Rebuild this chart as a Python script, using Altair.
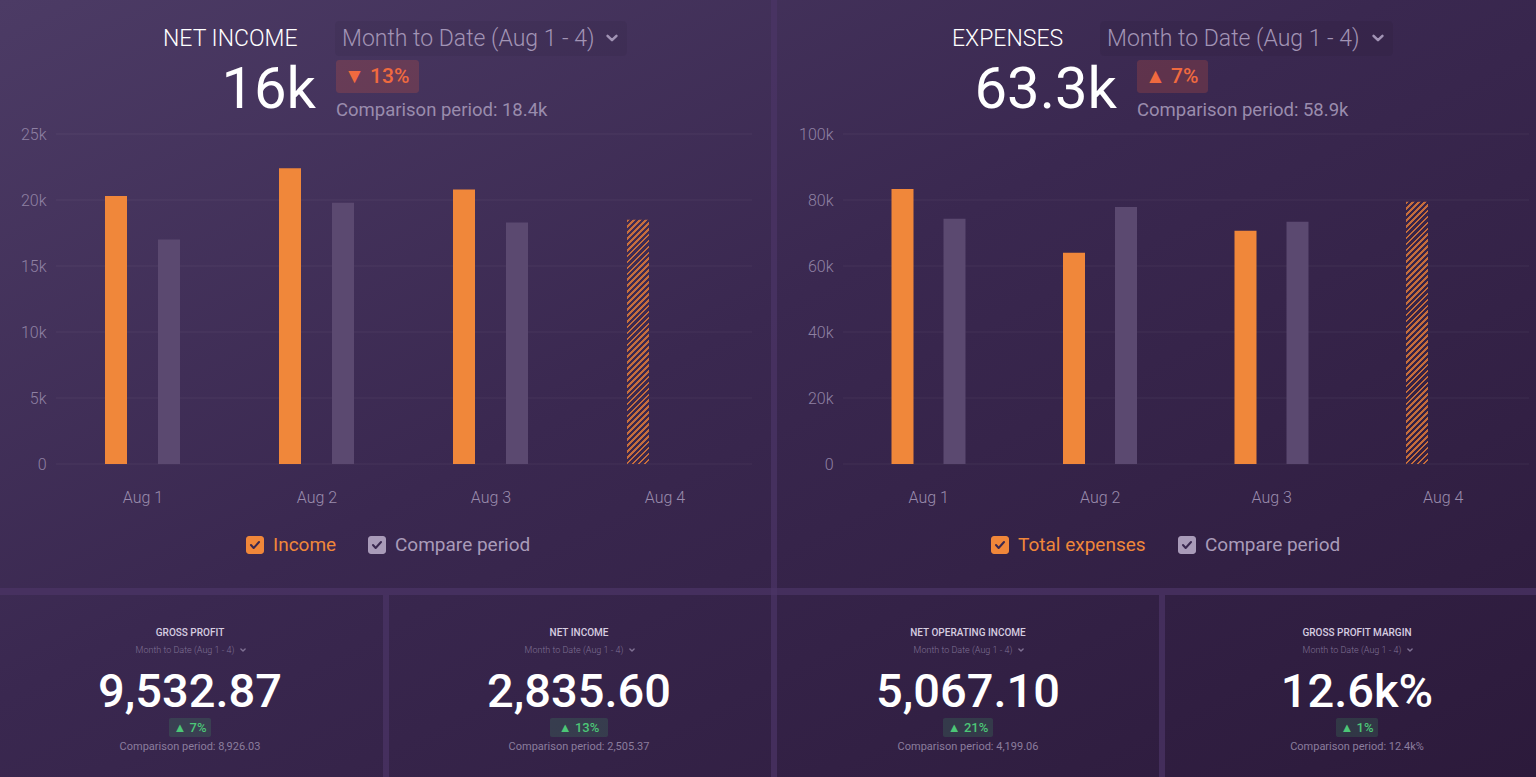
import altair as alt
import pandas as pd

# ---------------- data ----------------
days = ["Aug 1", "Aug 2", "Aug 3", "Aug 4"]

income = [20300, 22400, 20800]
income_compare = [17000, 19800, 18300]
income_forecast = 18500          # Aug 4 is still running

expenses = [83300, 64000, 70700]
expenses_compare = [74300, 77900, 73400]
expenses_forecast = 79500

income_ticks = [0, 5000, 10000, 15000, 20000, 25000]
expense_ticks = [0, 20000, 40000, 60000, 80000, 100000]

kpi_titles = ["GROSS PROFIT", "NET INCOME", "NET OPERATING INCOME", "GROSS PROFIT MARGIN"]
kpi_values = ["9,532.87", "2,835.60", "5,067.10", "12.6k%"]
kpi_changes = ["▲ 7%", "▲ 13%", "▲ 21%", "▲ 1%"]
kpi_compare = ["8,926.03", "2,505.37", "4,199.06", "12.4k%"]

# ---------------- style / layout ----------------
W, H = 1536, 777
PLOT_TOP, PLOT_BOTTOM = 134, 464
FONT = "Roboto"
ORANGE = "#f0873a"
GREY_BAR = "#5b4970"
CHECK_GREY = "#a99bb9"
AXIS_TEXT = "#8f81a3"
MUTED = "#9a8cad"
BAR_W = 22

DOT = pd.DataFrame({"k": [0]})


def label(text, x, y, size, color, weight=400, align="left", baseline="middle"):
    return alt.Chart(DOT).mark_text(
        text=text, font=FONT, fontSize=size, color=color, fontWeight=weight,
        align=align, baseline=baseline,
    ).encode(x=alt.value(x), y=alt.value(y))


def box(x, x2, y, y2, color, opacity=1.0, radius=0):
    return alt.Chart(DOT).mark_rect(
        color=color, opacity=opacity, cornerRadius=radius
    ).encode(x=alt.value(x), x2=alt.value(x2), y=alt.value(y), y2=alt.value(y2))


def glyph(path, x, y, size, color, width):
    return alt.Chart(DOT).mark_point(
        shape=path, size=size, filled=False, stroke=color, strokeWidth=width,
        opacity=1, strokeCap="round", strokeJoin="round",
    ).encode(x=alt.value(x), y=alt.value(y))


CHEVRON = "M -0.6 -0.3 L 0 0.3 L 0.6 -0.3"
CHECK = "M -0.6 0 L -0.2 0.45 L 0.6 -0.45"


def hatch_fill(bar_h, bar_w=BAR_W, period=4.2, duty=0.45):
    """Diagonal '/' stripes as a hard-stop linear gradient in bounding-box units."""
    r = bar_h / bar_w
    a = (1 + r) / (1 + r * r)
    b = a * r
    n = max(1, round((bar_w + bar_h) / (period * 2 ** 0.5)))
    on, off = "rgba(222,122,58,0.85)", "rgba(222,122,58,0)"
    stops = []
    for i in range(n):
        t0, t1, t2 = i / n, (i + duty) / n, (i + 1) / n
        stops += [
            alt.GradientStop(color=on, offset=t0),
            alt.GradientStop(color=on, offset=t1),
            alt.GradientStop(color=off, offset=t1),
            alt.GradientStop(color=off, offset=t2),
        ]
    return alt.LinearGradient(gradient="linear", stops=stops, x1=0, y1=0, x2=a, y2=b)


def bar_panel(series, actual, compare, forecast, ticks, x_range, off_range):
    keys = [series, "Compare period"]
    rows = [{"day": d, "series": series, "value": v} for d, v in zip(days, actual)]
    rows += [{"day": d, "series": "Compare period", "value": v} for d, v in zip(days, compare)]
    df = pd.DataFrame(rows)
    fc = pd.DataFrame({"day": [days[-1]], "series": [series], "value": [forecast]})
    grid_df = pd.DataFrame({"value": ticks})

    x = alt.X(
        "day:N", sort=days,
        scale=alt.Scale(domain=days, range=x_range, paddingInner=0, paddingOuter=0),
        axis=alt.Axis(orient="bottom", offset=PLOT_BOTTOM - H, title=None, zindex=1,
                      domain=False, ticks=False, grid=False, labelAngle=0,
                      labelPadding=25, labelFont=FONT, labelFontSize=16,
                      labelFontWeight=300, labelColor=MUTED),
    )
    y_scale = alt.Scale(domain=[ticks[0], ticks[-1]], range=[PLOT_BOTTOM, PLOT_TOP], nice=False)
    y = alt.Y(
        "value:Q", scale=y_scale,
        axis=alt.Axis(orient="left", offset=-x_range[0], values=ticks,
                      labelExpr="datum.value == 0 ? '0' : format(datum.value / 1000, 'd') + 'k'",
                      title=None, domain=False, ticks=False, grid=False, zindex=1,
                      labelPadding=10, labelFont=FONT, labelFontSize=16,
                      labelFontWeight=300, labelColor=AXIS_TEXT),
    )
    xo = alt.XOffset(
        "series:N", sort=keys,
        scale=alt.Scale(domain=keys, range=off_range, paddingInner=0, paddingOuter=0),
    )
    # horizontal gridlines at the tick values, drawn beneath the bars
    grid = alt.Chart(grid_df).mark_rule(color="#ffffff", opacity=0.06, strokeWidth=1).encode(
        y=y, x=alt.value(x_range[0]), x2=alt.value(x_range[1])
    )
    bars = alt.Chart(df).mark_bar(size=BAR_W).encode(
        x=x, y=y, xOffset=xo,
        color=alt.Color("series:N", scale=alt.Scale(domain=keys, range=[ORANGE, GREY_BAR]),
                        legend=None),
    )
    bar_h = forecast * (PLOT_BOTTOM - PLOT_TOP) / ticks[-1]
    hatch = alt.Chart(fc).mark_bar(size=BAR_W, color=hatch_fill(bar_h)).encode(
        x=x, y=y, xOffset=xo
    )
    return alt.layer(grid, bars, hatch)


def header(title, tx, dd_x, dd_box, chevron_x, big, big_right, badge, badge_box, comp):
    return [
        box(dd_box[0], dd_box[1], 21, 56, "#000000", 0.05, 4),
        label(title, tx, 39, 23, "#ffffff", 300),
        label("Month to Date (Aug 1 - 4)", dd_x, 39, 23, "#a294b5", 300),
        glyph(CHEVRON, chevron_x, 38, 220, "#a294b5", 2.5),
        label(big, big_right, 108, 58, "#ffffff", 400, align="right", baseline="alphabetic"),
        box(badge_box[0], badge_box[1], 60, 93, "#ef5f3c", 0.2, 3),
        label(badge, badge_box[0] + 8, 77, 21, "#f06a3f", 500),
        label("Comparison period: " + comp, badge_box[0], 110, 18.5, MUTED, 400),
    ]


def legend(items):
    out = []
    for text, x, fill, text_color in items:
        out += [
            box(x, x + 18, 536, 554, fill, 1, 3),
            glyph(CHECK, x + 9, 545, 180, "#3a2850", 2),
            label(text, x + 27, 545, 19, text_color, 400),
        ]
    return out


def kpi_card(cx, title, value, change, comp, badge_w):
    return [
        label(title, cx, 633, 10, "#d6cde0", 500, align="center"),
        label("Month to Date (Aug 1 - 4)", cx - 5, 650, 9, "#7f7093", 300, align="center"),
        glyph(CHEVRON, cx + 53, 650, 50, "#7f7093", 1.4),
        label(value, cx, 707, 47, "#ffffff", 500, align="center", baseline="alphabetic"),
        box(cx - badge_w / 2, cx + badge_w / 2, 718, 737, "#45c873", 0.16, 2),
        label(change, cx, 728, 13, "#4cc777", 500, align="center"),
        label("Comparison period: " + comp, cx, 747, 11, "#8b7d9d", 400, align="center"),
    ]


background = alt.LinearGradient(
    gradient="linear", x1=0, y1=0, x2=1, y2=1,
    stops=[
        alt.GradientStop(color="#4c3b65", offset=0),
        alt.GradientStop(color="#3a2850", offset=0.45),
        alt.GradientStop(color="#2c1a3b", offset=1),
    ],
)

layers = [
    alt.Chart(DOT).mark_rect(color=background).encode(
        x=alt.value(0), x2=alt.value(W), y=alt.value(0), y2=alt.value(H)
    ),
    # panel separators
    box(771, 777, 0, 777, "#4b3566", 0.7),
    box(0, W, 588, 595, "#4b3566", 0.7),
    box(383, 389, 595, 777, "#4b3566", 0.7),
    box(1159, 1165, 595, 777, "#4b3566", 0.7),
    bar_panel("Income", income, income_compare, income_forecast, income_ticks,
              [56, 752], [33.5, 139.5]),
    bar_panel("Total expenses", expenses, expenses_compare, expenses_forecast, expense_ticks,
              [843, 1529], [33.5, 137.5]),
]
layers += header("NET INCOME", 163, 342, (335, 627), 612, "16k", 316, "▼ 13%", (336, 419), "18.4k")
layers += header("EXPENSES", 952, 1107, (1100, 1393), 1378, "63.3k", 1117, "▲ 7%", (1137, 1208), "58.9k")
layers += legend([
    ("Income", 246, ORANGE, ORANGE),
    ("Compare period", 368, CHECK_GREY, CHECK_GREY),
    ("Total expenses", 991, ORANGE, ORANGE),
    ("Compare period", 1178, CHECK_GREY, CHECK_GREY),
])
for cx, t, v, c, cp, bw in zip([190, 579, 968, 1357], kpi_titles, kpi_values, kpi_changes,
                               kpi_compare, [42, 58, 50, 42]):
    layers += kpi_card(cx, t, v, c, cp, bw)

chart = (
    alt.layer(*layers)
    .resolve_scale(x="independent", y="independent", xOffset="independent",
                   color="independent")
    .properties(width=W, height=H, padding=0, autosize=alt.AutoSizeParams(type="none"),
                background="#33213f")
    .configure_view(strokeWidth=0)
)

chart.save("out.html", embed_options={"renderer": "svg", "actions": False})
